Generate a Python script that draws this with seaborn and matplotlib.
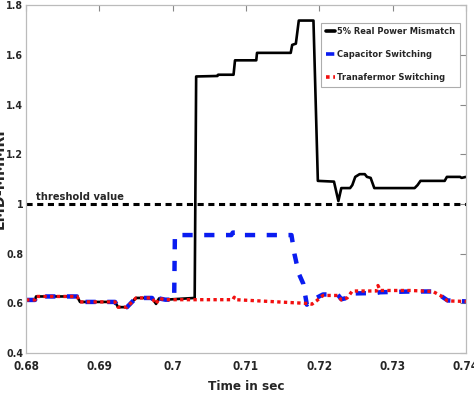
import matplotlib
matplotlib.use("Agg")
import matplotlib.pyplot as plt
from matplotlib import font_manager
import seaborn as sns
import pandas as pd

# shared pre-event trace (all three cases overlap here)
t_base = [0.6800, 0.68123, 0.68136, 0.68695, 0.68736, 0.69214, 0.69255, 0.69377,
          0.69459, 0.69500, 0.69718, 0.69773, 0.69814, 0.69900]
v_base = [0.614, 0.614, 0.628, 0.628, 0.606, 0.606, 0.585, 0.585,
          0.610, 0.622, 0.622, 0.598, 0.620, 0.615]

# 5% real power mismatch
t_real = [0.7030, 0.7032, 0.7061, 0.7062, 0.7083, 0.7085, 0.7114, 0.7115, 0.7161,
          0.7163, 0.7168, 0.7172, 0.7192, 0.7198, 0.7220, 0.7226, 0.7230, 0.7242,
          0.7245, 0.7249, 0.7255, 0.7262, 0.7265, 0.7270, 0.7275, 0.7330, 0.7334,
          0.7338, 0.7371, 0.7374, 0.7392, 0.7394, 0.7400]
v_real = [0.622, 1.513, 1.515, 1.520, 1.520, 1.578, 1.578, 1.608, 1.608,
          1.640, 1.645, 1.738, 1.738, 1.093, 1.090, 1.012, 1.064, 1.064,
          1.076, 1.109, 1.120, 1.120, 1.109, 1.105, 1.064, 1.064, 1.076,
          1.093, 1.093, 1.109, 1.109, 1.105, 1.109]

# capacitor switching
t_cap = [0.7002, 0.7003, 0.7080, 0.7082, 0.7085, 0.7087, 0.7162, 0.7166, 0.7172,
         0.7178, 0.7183, 0.7188, 0.7205, 0.7225, 0.7230, 0.7238, 0.7245, 0.7278,
         0.7283, 0.7325, 0.7355, 0.7365, 0.7375, 0.7400]
v_cap = [0.615, 0.875, 0.875, 0.885, 0.885, 0.875, 0.875, 0.800, 0.720,
         0.680, 0.595, 0.610, 0.636, 0.636, 0.617, 0.622, 0.640, 0.642,
         0.645, 0.648, 0.648, 0.632, 0.612, 0.608]

# transformer switching
t_tr = [0.7082, 0.7084, 0.7086, 0.7183, 0.7190, 0.7196, 0.7205, 0.7225, 0.7230,
        0.7238, 0.7245, 0.7278, 0.7280, 0.7283, 0.7325, 0.7355, 0.7365, 0.7375, 0.7400]
v_tr = [0.615, 0.625, 0.615, 0.600, 0.597, 0.610, 0.632, 0.632, 0.614,
        0.622, 0.650, 0.650, 0.672, 0.652, 0.652, 0.648, 0.632, 0.610, 0.608]

threshold = 1.0

series = ["5% Real Power Mismatch", "Capacitor Switching", "Tranafermor Switching"]
colors = ["black", "#0a1cf0", "#f21010"]

df = pd.concat([
    pd.DataFrame({"t": t_base + t_real, "v": v_base + v_real, "case": series[0]}),
    pd.DataFrame({"t": t_base + t_cap, "v": v_base + v_cap, "case": series[1]}),
    pd.DataFrame({"t": t_base + t_tr, "v": v_base + v_tr, "case": series[2]}),
], ignore_index=True)

sns.set_style("white")

# pick a narrow font if one is around
fonts = font_manager.fontManager.ttflist
names = {f.name for f in fonts}
if "Liberation Sans Narrow" in names:
    plt.rcParams["font.family"] = ["Liberation Sans Narrow", "DejaVu Sans"]
    fs = 1.0
elif any(f.name == "DejaVu Sans" and f.stretch == "condensed" for f in fonts):
    plt.rcParams["font.family"] = ["DejaVu Sans"]
    plt.rcParams["font.stretch"] = "condensed"
    fs = 0.88
else:
    plt.rcParams["font.family"] = ["Roboto", "DejaVu Sans"]
    fs = 0.85

fig = plt.figure(figsize=(4.74, 3.95), dpi=100)
ax = fig.add_axes([0.055, 0.106, 0.928, 0.881])

thr = ax.axhline(threshold, color="black", lw=2.2, zorder=1)
thr.set_linestyle((0, (2.0, 1.5)))

sns.lineplot(data=df, x="t", y="v", hue="case", style="case", size="case",
             palette=dict(zip(series, colors)),
             dashes={series[0]: "", series[1]: (2.3, 2.6), series[2]: (1.0, 1.0)},
             sizes={series[0]: 1.9, series[1]: 3.2, series[2]: 2.4},
             sort=False, estimator=None, ax=ax)

ax.text(0.6813, 1.008, "threshold value", fontsize=9 * fs, fontweight="bold",
        va="bottom", ha="left")

ax.set_xlim(0.68, 0.74)
ax.set_ylim(0.4, 1.8)
ax.set_xticks([0.68, 0.69, 0.70, 0.71, 0.72, 0.73, 0.74])
ax.set_xticklabels(["0.68", "0.69", "0.7", "0.71", "0.72", "0.73", "0.74"])
ax.set_yticks([0.4, 0.6, 0.8, 1.0, 1.2, 1.4, 1.6, 1.8])
ax.set_yticklabels(["0.4", "0.6", "0.8", "1", "1.2", "1.4", "1.6", "1.8"])
ax.tick_params(direction="in", length=4, width=0.8, color="#888888",
               labelsize=8.6 * fs, top=True, right=True, pad=2)
ax.tick_params(axis="x", pad=5, labelsize=9.5 * fs)
for lbl in ax.get_xticklabels() + ax.get_yticklabels():
    lbl.set_fontweight("bold")
for s in ax.spines.values():
    s.set_color("#bbbbbb")
    s.set_linewidth(0.9)

ax.set_xlabel("Time in sec", fontsize=11 * fs, fontweight="bold", labelpad=5)
ax.set_ylabel("EMD-MMMRI", fontsize=13 * fs, fontweight="bold")
ax.yaxis.set_label_coords(-0.043, 0.5)

handles, labels = ax.get_legend_handles_labels()
leg = ax.legend(handles, labels, loc="upper right", bbox_to_anchor=(0.99, 0.955),
                prop={"weight": "bold", "size": 7.6 * fs}, handlelength=1.0,
                handletextpad=0.2, borderpad=0.5, labelspacing=1.5,
                frameon=True, fancybox=False, borderaxespad=0.2)
leg.get_frame().set_edgecolor("#999999")
leg.get_frame().set_linewidth(0.8)
for h in leg.get_lines():
    h.set_linewidth(2.6)

fig.savefig("out.png", dpi=100)
